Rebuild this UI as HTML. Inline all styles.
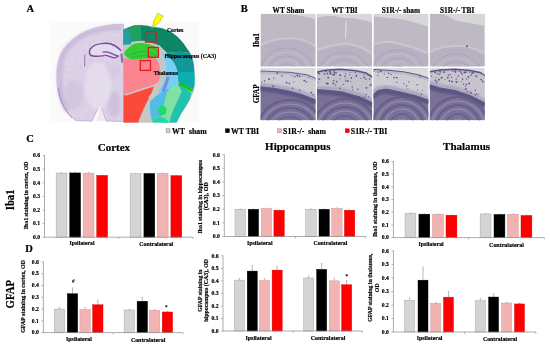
<!DOCTYPE html>
<html><head><meta charset="utf-8"><title>Figure</title><style>
html,body{margin:0;padding:0;background:#fff;}
body{width:550px;height:347px;overflow:hidden;}
svg{display:block;}
text{font-family:'Liberation Serif', serif;font-weight:bold;fill:#000;}
.pl{font-size:10.5px;}
.bh{font-size:7.2px;}
.lg{font-size:7.8px;}
.tt{font-size:11px;}
.rl{font-size:11.5px;}
.tk{font-size:5.7px;}
.cat{font-size:6.2px;}
.yl{font-size:5.6px;}
.mk{font-size:6px;}
.hs{font-size:5.2px;font-style:italic;}
.tk,.cat,.yl,.lg,.bh,.al{stroke:#000;stroke-width:0.18px;}
.rl,.tt,.pl{stroke:#000;stroke-width:0.2px;}
.al{font-size:6.2px;}
</style></head>
<body><svg width="550" height="347" viewBox="0 0 550 347">
<rect width="550" height="347" fill="#fff"/>
<defs><clipPath id="cA"><rect x="50.5" y="21.8" width="160" height="101"/></clipPath><filter id="bl1" x="-20%" y="-20%" width="140%" height="140%"><feGaussianBlur stdDeviation="0.6"/></filter><filter id="bl2" x="-20%" y="-20%" width="140%" height="140%"><feGaussianBlur stdDeviation="1.5"/></filter></defs>
<rect x="50.5" y="21.8" width="148.5" height="100" fill="#fafafa"/>
<g clip-path="url(#cA)">
<filter id="nz" x="0" y="0" width="100%" height="100%"><feTurbulence type="fractalNoise" baseFrequency="0.35" numOctaves="2" seed="4"/><feColorMatrix values="0 0 0 0 0.62  0 0 0 0 0.48  0 0 0 0 0.74  0 0 0 -1.6 1.05"/><feComposite in2="SourceGraphic" operator="in"/></filter>
<path d="M123.5,24.3 C121.75,24.38 116.92,24.37 113,24.8 C109.08,25.23 103.83,26.03 100,26.9 C96.17,27.77 93.33,28.68 90,30 C86.67,31.32 83.00,33.07 80,34.8 C77.00,36.53 74.50,38.15 72,40.4 C69.50,42.65 67.00,45.53 65,48.3 C63.00,51.07 61.25,53.88 60,57 C58.75,60.12 58.00,63.50 57.5,67 C57.00,70.50 56.95,74.17 57,78 C57.05,81.83 57.23,86.33 57.8,90 C58.37,93.67 59.07,96.67 60.4,100 C61.73,103.33 63.95,107.17 65.8,110 C67.65,112.83 69.80,115.23 71.5,117 C73.20,118.77 75.25,120.00 76,120.6 L92,121 L100,104 L106,121 L123.5,121.5 Z" fill="#ded4e6" stroke="#bca9d1" stroke-width="0.8"/>
<path d="M123.5,24.3 C121.75,24.38 116.92,24.37 113,24.8 C109.08,25.23 103.83,26.03 100,26.9 C96.17,27.77 93.33,28.68 90,30 C86.67,31.32 83.00,33.07 80,34.8 C77.00,36.53 74.50,38.15 72,40.4 C69.50,42.65 67.00,45.53 65,48.3 C63.00,51.07 61.25,53.88 60,57 C58.75,60.12 58.00,63.50 57.5,67 C57.00,70.50 56.95,74.17 57,78 C57.05,81.83 57.23,86.33 57.8,90 C58.37,93.67 59.07,96.67 60.4,100 C61.73,103.33 63.95,107.17 65.8,110 C67.65,112.83 69.80,115.23 71.5,117 C73.20,118.77 75.25,120.00 76,120.6 L92,121 L100,104 L106,121 L123.5,121.5 Z" fill="#000" filter="url(#nz)" opacity="0.45"/>
<path d="M122,27.5 C110,27.5 98,29.5 88,33 C78,37.5 70,44 65,51 C61,58 60,66 59.8,75 C59.8,84 60.5,92 62.5,99 C64,104 66,108 68,111" fill="none" stroke="#cbb9da" stroke-width="5" filter="url(#bl2)"/>
<path d="M58.5,88 C59.5,98 63,107 68.5,114 C70,116 71,117 72,117.5" fill="none" stroke="#9c80c0" stroke-width="0.8"/>
<ellipse cx="74" cy="95" rx="9" ry="15" fill="#cfc0dc" fill-opacity="0.7" filter="url(#bl2)"/>
<ellipse cx="114" cy="104" rx="7" ry="13" fill="#cbbbda" fill-opacity="0.7" filter="url(#bl2)"/>
<ellipse cx="112" cy="72" rx="8" ry="8" fill="#d2c5df" fill-opacity="0.6" filter="url(#bl2)"/>
<ellipse cx="98" cy="86" rx="13" ry="24" fill="#e7e0ee" fill-opacity="0.75" filter="url(#bl2)"/>
<path d="M90,55 C90,47 97,43.2 104,43.2 C111,43.2 117,46 121,51 L119,57 L104,56.5 Z" fill="#e4dcec" filter="url(#bl1)"/>
<path d="M104.5,55.6 C99,56.2 94,56.5 91.5,55.8 C89,54.5 88.8,51 90.5,48.8 C93,45.5 97.5,44 101.6,43.6 C105,43.2 108.5,43.2 111,44 C115,45.2 118.5,48 121.2,50.7" fill="none" stroke="#7846a6" stroke-width="1.45"/>
<path d="M102.6,52.2 C105,51.8 108,52 110,52.8 C112.5,54 115,55.4 118.3,56.1 C116.5,57.6 115,58.2 113,57.6 C110,56.6 107,55.6 104.5,55.2" fill="none" stroke="#7846a6" stroke-width="1.25"/>
<path d="M84.9,54.6 C84.8,58 84.6,62 84.5,66.4" fill="none" stroke="#9572bb" stroke-width="1"/>
<path d="M121.4,53.5 L122.3,62.5" fill="none" stroke="#8a62b4" stroke-width="2"/>
<path d="M97,121 C98.5,114 99.5,109 100.3,104 C101,109 102.5,115 104.5,121 Z" fill="#eeeaf1"/>
<path d="M123.5,29.5 L127,28 L134,25.6 L141,25.2 L147,25.8 L152.4,27.0 L157,27.6 L162.1,28.3 L167,30.2 L171.8,32.5 L176.5,36 L180.3,39.8 L183.5,43.5 L186.3,47.7 L189,51.5 L191.2,55.5 L192.8,60 L193.8,65 L194.4,72 L194.7,80 L194.5,86 L193.4,91 L192.2,94.3 L190,99 L187.6,103.3 L184.5,108.5 L181.1,113.7 L179,117.5 L176.6,122.8 L123.5,122.8 Z" fill="#c6c6c6" stroke="#bdbdbd" stroke-width="0.4"/>
<path d="M123.5,29.5 L127,28 L134,25.6 L141,25.2 L147,25.8 L152.4,27.0 L157,27.6 L162.1,28.3 L167,30.2 L171.8,32.5 L176.5,36 L180.3,39.8 L183.5,43.5 L186.3,47.7 L189,51.5 L191.2,55.5 L190,53 L180,51.8 L167,52.8 L163.3,49.2 L159.7,45.6 L150,42.2 L141.6,40.6 L131.3,41.5 L123.5,44.5 Z" fill="#0c8665"/>
<path d="M166.5,52.8 L180,51.8 L190,53 L191.2,55.5 L192.8,60 L193.8,65 L194.4,72 L177.5,72.2 L176,67 L173.7,62.5 L170,58 L166,55 Z" fill="#12979b"/>
<path d="M177.5,72 L194.4,72 L194.7,80 L194.4,86 L193.4,89 L180.5,83.5 L178.2,82 Z" fill="#0eaeae"/>
<path d="M128,27.7 L134,25.6 L141,25.2 L141.6,40.6 L131.3,41.5 L130.7,35.7 Z" fill="#1ea060"/>
<path d="M123.5,29.5 L128,27.7 L130.7,35.7 L131.3,41.5 L131,44.2 L123.5,45 Z" fill="#20a2a2"/>
<path d="M162.5,53.5 C163.00,52.33 164.75,54.25 166,55 C167.25,55.75 168.72,56.75 170,58 C171.28,59.25 172.70,61.00 173.7,62.5 C174.70,64.00 175.37,65.38 176,67 C176.63,68.62 177.13,69.70 177.5,72.2 C177.87,74.70 178.45,79.70 178.2,82 C177.95,84.30 177.20,84.92 176,86 C174.80,87.08 172.50,87.58 171,88.5 C169.50,89.42 168.50,90.25 167,91.5 C165.50,92.75 163.50,96.25 162,96 C160.50,95.75 158.17,92.33 158,90 C157.83,87.67 160.17,84.67 161,82 C161.83,79.33 162.67,77.33 163,74 C163.33,70.67 163.08,65.42 163,62 C162.92,58.58 162.00,54.67 162.5,53.5 Z" fill="#74d1f4"/>
<path d="M150,101 L156,96 L162,92 L167,89 L170,90 L167,98 L164,106 L163,112 L161,117 L155,118.5 L151,117.6 L150,110 Z" fill="#52bce6"/>
<path d="M167,92 L170,89 L173.3,86.5 L178,85 L181.8,91 L178,100 L174,108 L170.8,116.3 L169.5,122.8 L164,122.8 L163,118 L163,112 L164,104 Z" fill="#7fe1a2"/>
<ellipse cx="162.3" cy="110.5" rx="4.3" ry="5" fill="#1fdc6a"/>
<path d="M178,85 L180,84 L191.5,93 L190,99 L187.6,103.3 L184.5,108.5 L181.1,113.7 L179,117.5 L176.6,122.8 L169.5,122.8 L170.8,116.3 L174,108 L178,100 L181.8,91 Z" fill="#22c3ad"/>
<path d="M151,117.6 L155,118.5 L161,117 L165,118 L169.5,122.8 L153,122.8 Z" fill="#1fd8a2"/>
<path d="M179,83.3 L192.8,90.8" stroke="#13c713" stroke-width="2.8"/>
<path d="M123.5,58 L130.7,59.3 L141.6,58.7 L151.3,57.5 L156.5,58.5 L159.5,65 L160.6,74.5 L159.1,81 L153.9,85.2 L125.4,95 L123.5,95.5 Z" fill="#fa8590"/>
<path d="M123.5,95.5 L125.4,95 L153.9,86.2 L152,92 L148,100 L144,108 L141,115 L138,122.8 L123.5,122.8 Z" fill="#fc4a3a"/>
<path d="M161.5,56 C164,64 164.5,72 162,80 C159,87 155,93 150,99" fill="none" stroke="#c6c6c6" stroke-width="4.5"/>
<path d="M125.4,95 L153.9,85.6" stroke="#c8c8c8" stroke-width="1.6"/>
<path d="M168.2,77 C167,82 165,87 163,91.3" fill="none" stroke="#8189d8" stroke-width="3"/>
<path d="M124.7,52 C124.90,51.20 124.48,51.60 125.9,50.3 C127.32,49.00 130.78,45.42 133.2,44.2 C135.62,42.98 137.78,43.00 140.4,43 C143.02,43.00 146.47,43.60 148.9,44.2 C151.33,44.80 153.38,45.38 155,46.6 C156.62,47.82 158.00,49.88 158.6,51.5 C159.20,53.12 159.82,55.30 158.6,56.3 C157.38,57.30 154.13,57.10 151.3,57.5 C148.47,57.90 145.03,58.40 141.6,58.7 C138.17,59.00 133.52,59.90 130.7,59.3 C127.88,58.70 125.70,56.32 124.7,55.1 C123.70,53.88 124.50,52.80 124.7,52 Z" fill="#34cd34"/>
<path d="M130,55 C136,52 143,51 150,52.5 C153,53.5 155,55 156,56" fill="none" stroke="#2fa82c" stroke-width="0.8"/>
<path d="M131,57.5 C138,55.5 146,55 153,56.5" fill="none" stroke="#2fa82c" stroke-width="0.6"/>
<rect x="145.6" y="31.7" width="10.4" height="10.4" fill="none" stroke="#e8161c" stroke-width="1.3"/>
<rect x="148.3" y="47.5" width="10.0" height="9.8" fill="none" stroke="#e8161c" stroke-width="1.3"/>
<rect x="140.3" y="60.6" width="10.2" height="9.8" fill="none" stroke="#e8161c" stroke-width="1.3"/>
</g>
<path d="M157.6,13.2 L163.6,16.2 L160.0,19.1 L161.1,20.3 L157.6,23.9 L151.6,28.2 L154.0,22.6 L153.2,22.3 L155.4,17.9 Z" fill="#ffff00" stroke="#9a9a20" stroke-width="0.5"/>
<text x="167" y="31.9" class="al" textLength="16.6" lengthAdjust="spacingAndGlyphs">Cortex</text>
<text x="164.4" y="57.6" class="al" textLength="51.7" lengthAdjust="spacingAndGlyphs">Hippocampus (CA3)</text>
<text x="153.7" y="75" class="al" textLength="24.5" lengthAdjust="spacingAndGlyphs">Thalamus</text>
<defs>
<clipPath id="ci0"><rect x="260.5" y="13.7" width="55.10" height="52.90"/></clipPath>
<clipPath id="cg0"><rect x="260.5" y="68.0" width="55.10" height="52.30"/></clipPath>
<clipPath id="ci1"><rect x="317.0" y="13.7" width="55.10" height="52.90"/></clipPath>
<clipPath id="cg1"><rect x="317.0" y="68.0" width="55.10" height="52.30"/></clipPath>
<clipPath id="ci2"><rect x="373.5" y="13.7" width="54.90" height="52.90"/></clipPath>
<clipPath id="cg2"><rect x="373.5" y="68.0" width="54.90" height="52.30"/></clipPath>
<clipPath id="ci3"><rect x="429.8" y="13.7" width="55.00" height="52.90"/></clipPath>
<clipPath id="cg3"><rect x="429.8" y="68.0" width="55.00" height="52.30"/></clipPath>
<filter id="bb" x="-10%" y="-10%" width="120%" height="120%"><feGaussianBlur stdDeviation="0.9"/></filter>
<filter id="bs" x="-10%" y="-10%" width="120%" height="120%"><feGaussianBlur stdDeviation="0.4"/></filter>
</defs>
<g clip-path="url(#ci0)">
<rect x="260.5" y="13.7" width="55.10" height="52.90" fill="#beb9c3"/>
<path d="M261,45 C270,40 282,37.5 295,38.5 C305,39.5 311,42.5 315.6,47 L315.6,66.6 L260.5,66.6 Z" fill="#b9b1c1" filter="url(#bb)"/>
<path d="M261,45 C270,40 282,37.5 295,38.5 C305,39.5 311,42.5 315.6,47" fill="none" stroke="#cac6d0" stroke-width="2.2" filter="url(#bs)"/>
<ellipse cx="287" cy="73" rx="27" ry="25" fill="none" stroke="#aaa2bc" stroke-width="1.0" filter="url(#bs)"/>
<ellipse cx="287" cy="73" rx="23" ry="21" fill="none" stroke="#c2beca" stroke-width="1.1" filter="url(#bs)"/>
<ellipse cx="287" cy="73" rx="19" ry="17" fill="none" stroke="#a9a1bb" stroke-width="1.0" filter="url(#bs)"/>
<ellipse cx="287" cy="73" rx="15" ry="13" fill="none" stroke="#c1bdc9" stroke-width="1.1" filter="url(#bs)"/>
<ellipse cx="287" cy="73" rx="11" ry="9" fill="none" stroke="#aca4bd" stroke-width="0.9" filter="url(#bs)"/>
<path d="M282,13.7 C295,14.5 306,16 315.6,19.5 L315.6,13.7 Z" fill="#d7d7da"/>
</g>
<g clip-path="url(#ci1)">
<rect x="317.0" y="13.7" width="55.10" height="52.90" fill="#beb9c3"/>
<path d="M317,50 C328,46 338,43.5 347.7,43.9 C358,45 366,49 372.1,54 L372.1,66.6 L317.0,66.6 Z" fill="#b9b1c1" filter="url(#bb)"/>
<path d="M317,50 C328,46 338,43.5 347.7,43.9 C358,45 366,49 372.1,54" fill="none" stroke="#cac6d0" stroke-width="2.2" filter="url(#bs)"/>
<ellipse cx="344" cy="77" rx="27" ry="25" fill="none" stroke="#aaa2bc" stroke-width="1.0" filter="url(#bs)"/>
<ellipse cx="344" cy="77" rx="23" ry="21" fill="none" stroke="#c2beca" stroke-width="1.1" filter="url(#bs)"/>
<ellipse cx="344" cy="77" rx="19" ry="17" fill="none" stroke="#a9a1bb" stroke-width="1.0" filter="url(#bs)"/>
<ellipse cx="344" cy="77" rx="15" ry="13" fill="none" stroke="#c1bdc9" stroke-width="1.1" filter="url(#bs)"/>
<ellipse cx="344" cy="77" rx="11" ry="9" fill="none" stroke="#aca4bd" stroke-width="0.9" filter="url(#bs)"/>
<path d="M317,17.5 C325,15.5 335,15 343,18 C352,17.5 362,19 372.1,22.5 L372.1,13.7 L317,13.7 Z" fill="#d7d7da"/>
<path d="M346.3,21.5 C346,27 345.6,33 345.4,38.5" fill="none" stroke="#dcdae1" stroke-width="1.4" filter="url(#bs)"/>
</g>
<g clip-path="url(#ci2)">
<rect x="373.5" y="13.7" width="54.90" height="52.90" fill="#beb9c3"/>
<path d="M373.5,44 C380,42.5 384,41.8 388,41.6 C395,42 400,43.5 404,44.7 C414,47.5 421,50.5 428.4,53.5 L428.4,66.6 L373.5,66.6 Z" fill="#b9b1c1" filter="url(#bb)"/>
<path d="M373.5,44 C380,42.5 384,41.8 388,41.6 C395,42 400,43.5 404,44.7 C414,47.5 421,50.5 428.4,53.5" fill="none" stroke="#cac6d0" stroke-width="2.2" filter="url(#bs)"/>
<ellipse cx="398" cy="75" rx="27" ry="25" fill="none" stroke="#aaa2bc" stroke-width="1.0" filter="url(#bs)"/>
<ellipse cx="398" cy="75" rx="23" ry="21" fill="none" stroke="#c2beca" stroke-width="1.1" filter="url(#bs)"/>
<ellipse cx="398" cy="75" rx="19" ry="17" fill="none" stroke="#a9a1bb" stroke-width="1.0" filter="url(#bs)"/>
<ellipse cx="398" cy="75" rx="15" ry="13" fill="none" stroke="#c1bdc9" stroke-width="1.1" filter="url(#bs)"/>
<ellipse cx="398" cy="75" rx="11" ry="9" fill="none" stroke="#aca4bd" stroke-width="0.9" filter="url(#bs)"/>
<path d="M373.5,16.5 C380,17.3 388,18 396,18.6 C403,19.6 408,20.6 412,21.7 C418,23.5 423,25 428.4,26.5 L428.4,13.7 L373.5,13.7 Z" fill="#d7d7da"/>
</g>
<g clip-path="url(#ci3)">
<rect x="429.8" y="13.7" width="55.00" height="52.90" fill="#beb9c3"/>
<path d="M429.8,52 C440,47 452,45 463,46 C472,47.5 479,50 484.8,54 L484.8,66.6 L429.8,66.6 Z" fill="#b9b1c1" filter="url(#bb)"/>
<path d="M429.8,52 C440,47 452,45 463,46 C472,47.5 479,50 484.8,54" fill="none" stroke="#cac6d0" stroke-width="2.2" filter="url(#bs)"/>
<ellipse cx="456" cy="79" rx="27" ry="25" fill="none" stroke="#aaa2bc" stroke-width="1.0" filter="url(#bs)"/>
<ellipse cx="456" cy="79" rx="23" ry="21" fill="none" stroke="#c2beca" stroke-width="1.1" filter="url(#bs)"/>
<ellipse cx="456" cy="79" rx="19" ry="17" fill="none" stroke="#a9a1bb" stroke-width="1.0" filter="url(#bs)"/>
<ellipse cx="456" cy="79" rx="15" ry="13" fill="none" stroke="#c1bdc9" stroke-width="1.1" filter="url(#bs)"/>
<ellipse cx="456" cy="79" rx="11" ry="9" fill="none" stroke="#aca4bd" stroke-width="0.9" filter="url(#bs)"/>
<path d="M442,13.7 C448,16 452,19 457,21 C466,22.5 476,24 484.8,26 L484.8,13.7 Z" fill="#d7d7da"/>
<circle cx="466.9" cy="46.3" r="1.1" fill="#6a6288" filter="url(#bs)"/>
</g>
<clipPath id="ch0"><path d="M259,86 L275,88 L288,90.5 L300,93.5 L317,100 L318.6,123.3 L257.5,123.3 Z"/></clipPath>
<g clip-path="url(#cg0)">
<rect x="260.5" y="68.0" width="55.10" height="52.30" fill="#dadadd"/>
<path d="M259,70.9 L274.4,71.6 L290.9,72.4 L307.3,74.8 L317,78.8 L318.6,120.3 L257.5,120.3 Z" fill="#cdcad3"/>
<path d="M259,70.9 L274.4,71.6 L290.9,72.4 L307.3,74.8 L317,78.8" fill="none" stroke="#bdb8cb" stroke-width="2.4" transform="translate(0,1.6)" filter="url(#bs)"/>
<path d="M259,70.9 L274.4,71.6 L290.9,72.4 L307.3,74.8 L317,78.8" fill="none" stroke="#5b5384" stroke-width="0.9" filter="url(#bs)"/>
<path d="M259,86 L275,88 L288,90.5 L300,93.5 L317,100" fill="none" stroke="#aaa4bf" stroke-width="4" transform="translate(0,-1.5)" filter="url(#bb)"/>
<g clip-path="url(#ch0)">
<rect x="260.5" y="68.0" width="55.10" height="52.30" fill="#7a7197"/>
<path d="M259,86 L275,88 L288,90.5 L300,93.5 L317,100" fill="none" stroke="#5d5484" stroke-width="6" transform="translate(0,2)" filter="url(#bb)"/>
<ellipse cx="290" cy="128" rx="32" ry="28" fill="none" stroke="#665d8a" stroke-width="2.0" filter="url(#bs)"/>
<ellipse cx="290" cy="128" rx="28" ry="24" fill="none" stroke="#978fb0" stroke-width="1.1" filter="url(#bs)"/>
<ellipse cx="290" cy="128" rx="24" ry="20" fill="none" stroke="#675e8b" stroke-width="2.0" filter="url(#bs)"/>
<ellipse cx="290" cy="128" rx="20" ry="16" fill="none" stroke="#9c95b4" stroke-width="1.0" filter="url(#bs)"/>
<ellipse cx="290" cy="128" rx="15" ry="11" fill="none" stroke="#6c638e" stroke-width="2.0" filter="url(#bs)"/>
<ellipse cx="290" cy="128" rx="10" ry="6" fill="none" stroke="#948cad" stroke-width="1.0" filter="url(#bs)"/>
</g>
<g filter="url(#bs)">
<circle cx="273.9" cy="78.1" r="0.67" fill="#5a527f"/>
<circle cx="293.7" cy="82.0" r="0.53" fill="#5a527f"/>
<circle cx="261.7" cy="82.1" r="0.62" fill="#5a527f"/>
<circle cx="273.7" cy="86.7" r="0.71" fill="#5a527f"/>
<circle cx="306.3" cy="81.7" r="0.79" fill="#5a527f"/>
<circle cx="269.1" cy="79.2" r="0.89" fill="#5a527f"/>
<circle cx="289.3" cy="83.6" r="0.80" fill="#5a527f"/>
<circle cx="264.5" cy="80.9" r="0.77" fill="#5a527f"/>
<circle cx="277.3" cy="73.0" r="0.89" fill="#5a527f"/>
<circle cx="286.6" cy="82.7" r="0.90" fill="#5a527f"/>
<circle cx="299.6" cy="90.2" r="0.68" fill="#5a527f"/>
<circle cx="304.3" cy="80.6" r="0.92" fill="#5a527f"/>
<circle cx="308.5" cy="77.0" r="0.56" fill="#5a527f"/>
<circle cx="272.7" cy="86.0" r="0.70" fill="#5a527f"/>
<circle cx="294.9" cy="76.7" r="0.73" fill="#5a527f"/>
<circle cx="281.9" cy="76.0" r="0.76" fill="#5a527f"/>
<circle cx="292.6" cy="88.2" r="0.81" fill="#5a527f"/>
<circle cx="311.3" cy="92.6" r="0.95" fill="#5a527f"/>
<circle cx="297.3" cy="75.5" r="0.89" fill="#5a527f"/>
<circle cx="313.2" cy="94.7" r="0.76" fill="#5a527f"/>
<circle cx="299.6" cy="76.3" r="0.87" fill="#5a527f"/>
<circle cx="292.0" cy="76.0" r="0.53" fill="#5a527f"/>
</g>
</g>
<clipPath id="ch1"><path d="M315,89 L330,90 L342,91.5 L360,96.5 L374,103 L375.1,123.3 L314.0,123.3 Z"/></clipPath>
<g clip-path="url(#cg1)">
<rect x="317.0" y="68.0" width="55.10" height="52.30" fill="#dadadd"/>
<path d="M315,72.5 L325,70.3 L340,69.2 L356,70.8 L366,73 L374,78 L375.1,120.3 L314.0,120.3 Z" fill="#c5c1cc"/>
<path d="M315,72.5 L325,70.3 L340,69.2 L356,70.8 L366,73 L374,78" fill="none" stroke="#bdb8cb" stroke-width="2.4" transform="translate(0,1.6)" filter="url(#bs)"/>
<path d="M315,72.5 L325,70.3 L340,69.2 L356,70.8 L366,73 L374,78" fill="none" stroke="#5b5384" stroke-width="1.6" filter="url(#bs)"/>
<path d="M315,89 L330,90 L342,91.5 L360,96.5 L374,103" fill="none" stroke="#aaa4bf" stroke-width="4" transform="translate(0,-1.5)" filter="url(#bb)"/>
<g clip-path="url(#ch1)">
<rect x="317.0" y="68.0" width="55.10" height="52.30" fill="#7a7197"/>
<path d="M315,89 L330,90 L342,91.5 L360,96.5 L374,103" fill="none" stroke="#5d5484" stroke-width="6" transform="translate(0,2)" filter="url(#bb)"/>
<ellipse cx="345" cy="130" rx="32" ry="31" fill="none" stroke="#665d8a" stroke-width="2.0" filter="url(#bs)"/>
<ellipse cx="345" cy="130" rx="28" ry="27" fill="none" stroke="#978fb0" stroke-width="1.1" filter="url(#bs)"/>
<ellipse cx="345" cy="130" rx="24" ry="23" fill="none" stroke="#675e8b" stroke-width="2.0" filter="url(#bs)"/>
<ellipse cx="345" cy="130" rx="20" ry="19" fill="none" stroke="#9c95b4" stroke-width="1.0" filter="url(#bs)"/>
<ellipse cx="345" cy="130" rx="15" ry="14" fill="none" stroke="#6c638e" stroke-width="2.0" filter="url(#bs)"/>
<ellipse cx="345" cy="130" rx="10" ry="9" fill="none" stroke="#948cad" stroke-width="1.0" filter="url(#bs)"/>
</g>
<g filter="url(#bs)">
<circle cx="363.7" cy="96.8" r="0.54" fill="#5a527f"/>
<circle cx="360.8" cy="78.5" r="0.57" fill="#5a527f"/>
<circle cx="333.4" cy="83.1" r="0.89" fill="#5a527f"/>
<circle cx="319.9" cy="79.8" r="0.52" fill="#5a527f"/>
<circle cx="356.4" cy="75.9" r="0.90" fill="#5a527f"/>
<circle cx="370.6" cy="84.9" r="0.95" fill="#5a527f"/>
<circle cx="334.3" cy="71.1" r="0.77" fill="#5a527f"/>
<circle cx="319.2" cy="73.9" r="0.68" fill="#5a527f"/>
<circle cx="350.5" cy="72.6" r="0.52" fill="#5a527f"/>
<circle cx="364.4" cy="77.6" r="0.93" fill="#5a527f"/>
<circle cx="366.0" cy="79.3" r="0.71" fill="#5a527f"/>
<circle cx="345.6" cy="81.1" r="0.77" fill="#5a527f"/>
<circle cx="347.8" cy="80.9" r="0.92" fill="#5a527f"/>
<circle cx="344.9" cy="76.2" r="0.82" fill="#5a527f"/>
<circle cx="330.4" cy="73.7" r="0.94" fill="#5a527f"/>
<circle cx="345.7" cy="78.8" r="0.51" fill="#5a527f"/>
<circle cx="340.0" cy="78.7" r="0.51" fill="#5a527f"/>
<circle cx="350.8" cy="81.8" r="0.53" fill="#5a527f"/>
<circle cx="351.4" cy="77.9" r="0.81" fill="#5a527f"/>
<circle cx="336.6" cy="81.7" r="0.83" fill="#5a527f"/>
<circle cx="318.7" cy="73.1" r="0.80" fill="#5a527f"/>
<circle cx="369.6" cy="79.0" r="0.71" fill="#5a527f"/>
<circle cx="349.6" cy="74.8" r="0.66" fill="#5a527f"/>
<circle cx="334.4" cy="74.6" r="0.77" fill="#5a527f"/>
<circle cx="333.8" cy="74.8" r="0.85" fill="#5a527f"/>
<circle cx="319.0" cy="79.1" r="0.83" fill="#5a527f"/>
<circle cx="334.3" cy="72.5" r="0.86" fill="#5a527f"/>
<circle cx="330.4" cy="72.3" r="0.70" fill="#5a527f"/>
<circle cx="355.3" cy="72.5" r="0.64" fill="#5a527f"/>
<circle cx="335.6" cy="84.9" r="0.70" fill="#5a527f"/>
<circle cx="363.8" cy="75.1" r="0.65" fill="#5a527f"/>
<circle cx="352.7" cy="89.6" r="0.70" fill="#5a527f"/>
<circle cx="329.7" cy="71.8" r="0.74" fill="#5a527f"/>
<circle cx="327.8" cy="83.7" r="0.88" fill="#5a527f"/>
<circle cx="327.4" cy="73.6" r="0.86" fill="#5a527f"/>
<circle cx="352.2" cy="87.0" r="0.66" fill="#5a527f"/>
<circle cx="324.5" cy="74.0" r="0.86" fill="#5a527f"/>
<circle cx="332.2" cy="74.3" r="0.69" fill="#5a527f"/>
<circle cx="340.2" cy="75.2" r="0.91" fill="#5a527f"/>
<circle cx="325.9" cy="71.4" r="0.92" fill="#5a527f"/>
<circle cx="365.1" cy="97.4" r="0.70" fill="#5a527f"/>
<circle cx="368.9" cy="96.9" r="0.60" fill="#5a527f"/>
<circle cx="357.8" cy="89.3" r="0.80" fill="#5a527f"/>
<circle cx="345.6" cy="73.8" r="0.65" fill="#5a527f"/>
<circle cx="329.8" cy="71.4" r="0.76" fill="#5a527f"/>
<circle cx="333.0" cy="84.1" r="0.52" fill="#5a527f"/>
<circle cx="366.4" cy="87.8" r="0.92" fill="#5a527f"/>
<circle cx="366.0" cy="94.5" r="0.76" fill="#5a527f"/>
<circle cx="318.2" cy="82.5" r="0.58" fill="#5a527f"/>
<circle cx="333.7" cy="80.5" r="0.74" fill="#5a527f"/>
<circle cx="339.9" cy="88.3" r="0.78" fill="#5a527f"/>
<circle cx="336.0" cy="72.8" r="0.89" fill="#5a527f"/>
<circle cx="343.3" cy="84.3" r="0.66" fill="#5a527f"/>
<circle cx="328.2" cy="77.7" r="0.87" fill="#5a527f"/>
<circle cx="326.8" cy="83.4" r="0.91" fill="#5a527f"/>
</g>
</g>
<clipPath id="ch2"><path d="M372,95 L378,90 L386,88.5 L400,91.5 L415,95 L430,100 L431.4,123.3 L370.5,123.3 Z"/></clipPath>
<g clip-path="url(#cg2)">
<rect x="373.5" y="68.0" width="54.90" height="52.30" fill="#dadadd"/>
<path d="M372,69.4 L390,70.4 L405,72 L420,75.2 L430,78.8 L431.4,120.3 L370.5,120.3 Z" fill="#cecbd3"/>
<path d="M372,69.4 L390,70.4 L405,72 L420,75.2 L430,78.8" fill="none" stroke="#bdb8cb" stroke-width="2.4" transform="translate(0,1.6)" filter="url(#bs)"/>
<path d="M372,69.4 L390,70.4 L405,72 L420,75.2 L430,78.8" fill="none" stroke="#5b5384" stroke-width="1.0" filter="url(#bs)"/>
<path d="M372,95 L378,90 L386,88.5 L400,91.5 L415,95 L430,100" fill="none" stroke="#aaa4bf" stroke-width="4" transform="translate(0,-1.5)" filter="url(#bb)"/>
<g clip-path="url(#ch2)">
<rect x="373.5" y="68.0" width="54.90" height="52.30" fill="#7a7197"/>
<path d="M372,95 L378,90 L386,88.5 L400,91.5 L415,95 L430,100" fill="none" stroke="#5d5484" stroke-width="6" transform="translate(0,2)" filter="url(#bb)"/>
<ellipse cx="402" cy="128" rx="30" ry="31" fill="none" stroke="#665d8a" stroke-width="2.0" filter="url(#bs)"/>
<ellipse cx="402" cy="128" rx="26" ry="27" fill="none" stroke="#978fb0" stroke-width="1.1" filter="url(#bs)"/>
<ellipse cx="402" cy="128" rx="22" ry="23" fill="none" stroke="#675e8b" stroke-width="2.0" filter="url(#bs)"/>
<ellipse cx="402" cy="128" rx="18" ry="19" fill="none" stroke="#9c95b4" stroke-width="1.0" filter="url(#bs)"/>
<ellipse cx="402" cy="128" rx="13" ry="14" fill="none" stroke="#6c638e" stroke-width="2.0" filter="url(#bs)"/>
<ellipse cx="402" cy="128" rx="8" ry="9" fill="none" stroke="#948cad" stroke-width="1.0" filter="url(#bs)"/>
</g>
<g filter="url(#bs)">
<circle cx="417.4" cy="89.8" r="0.50" fill="#5a527f"/>
<circle cx="407.9" cy="88.4" r="0.52" fill="#5a527f"/>
<circle cx="388.6" cy="73.5" r="0.74" fill="#5a527f"/>
<circle cx="396.8" cy="77.6" r="0.85" fill="#5a527f"/>
<circle cx="374.1" cy="70.9" r="0.56" fill="#5a527f"/>
<circle cx="380.7" cy="71.3" r="0.94" fill="#5a527f"/>
<circle cx="420.1" cy="76.8" r="0.73" fill="#5a527f"/>
<circle cx="391.0" cy="74.4" r="0.66" fill="#5a527f"/>
<circle cx="408.9" cy="81.9" r="0.66" fill="#5a527f"/>
<circle cx="384.3" cy="74.1" r="0.56" fill="#5a527f"/>
<circle cx="403.9" cy="83.8" r="0.67" fill="#5a527f"/>
<circle cx="378.3" cy="72.1" r="0.67" fill="#5a527f"/>
<circle cx="406.6" cy="86.0" r="0.67" fill="#5a527f"/>
<circle cx="417.2" cy="84.7" r="0.69" fill="#5a527f"/>
<circle cx="394.1" cy="77.6" r="0.82" fill="#5a527f"/>
<circle cx="396.7" cy="82.1" r="0.71" fill="#5a527f"/>
<circle cx="387.2" cy="77.5" r="0.81" fill="#5a527f"/>
<circle cx="377.9" cy="75.6" r="0.69" fill="#5a527f"/>
<circle cx="421.4" cy="94.2" r="0.67" fill="#5a527f"/>
<circle cx="422.4" cy="90.5" r="0.62" fill="#5a527f"/>
</g>
</g>
<clipPath id="ch3"><path d="M428,84 L440,87.5 L455,90 L470,95 L486,103 L487.8,123.3 L426.8,123.3 Z"/></clipPath>
<g clip-path="url(#cg3)">
<rect x="429.8" y="68.0" width="55.00" height="52.30" fill="#dadadd"/>
<path d="M428,72 L440,70 L455,69.3 L470,70.5 L480,72.5 L486,76 L487.8,120.3 L426.8,120.3 Z" fill="#c8c4ce"/>
<path d="M428,72 L440,70 L455,69.3 L470,70.5 L480,72.5 L486,76" fill="none" stroke="#bdb8cb" stroke-width="2.4" transform="translate(0,1.6)" filter="url(#bs)"/>
<path d="M428,72 L440,70 L455,69.3 L470,70.5 L480,72.5 L486,76" fill="none" stroke="#5b5384" stroke-width="1.4" filter="url(#bs)"/>
<path d="M428,84 L440,87.5 L455,90 L470,95 L486,103" fill="none" stroke="#aaa4bf" stroke-width="4" transform="translate(0,-1.5)" filter="url(#bb)"/>
<g clip-path="url(#ch3)">
<rect x="429.8" y="68.0" width="55.00" height="52.30" fill="#7a7197"/>
<path d="M428,84 L440,87.5 L455,90 L470,95 L486,103" fill="none" stroke="#5d5484" stroke-width="6" transform="translate(0,2)" filter="url(#bb)"/>
<ellipse cx="458" cy="130" rx="31" ry="33" fill="none" stroke="#665d8a" stroke-width="2.0" filter="url(#bs)"/>
<ellipse cx="458" cy="130" rx="27" ry="29" fill="none" stroke="#978fb0" stroke-width="1.1" filter="url(#bs)"/>
<ellipse cx="458" cy="130" rx="23" ry="25" fill="none" stroke="#675e8b" stroke-width="2.0" filter="url(#bs)"/>
<ellipse cx="458" cy="130" rx="19" ry="21" fill="none" stroke="#9c95b4" stroke-width="1.0" filter="url(#bs)"/>
<ellipse cx="458" cy="130" rx="14" ry="16" fill="none" stroke="#6c638e" stroke-width="2.0" filter="url(#bs)"/>
<ellipse cx="458" cy="130" rx="9" ry="11" fill="none" stroke="#948cad" stroke-width="1.0" filter="url(#bs)"/>
</g>
<g filter="url(#bs)">
<circle cx="455.4" cy="71.2" r="0.87" fill="#5a527f"/>
<circle cx="466.1" cy="89.0" r="0.86" fill="#5a527f"/>
<circle cx="466.3" cy="84.4" r="0.75" fill="#5a527f"/>
<circle cx="435.9" cy="77.6" r="0.50" fill="#5a527f"/>
<circle cx="438.0" cy="81.1" r="0.52" fill="#5a527f"/>
<circle cx="435.3" cy="72.3" r="0.90" fill="#5a527f"/>
<circle cx="440.0" cy="71.2" r="0.88" fill="#5a527f"/>
<circle cx="436.8" cy="82.3" r="0.80" fill="#5a527f"/>
<circle cx="475.5" cy="94.9" r="0.76" fill="#5a527f"/>
<circle cx="473.4" cy="72.5" r="0.85" fill="#5a527f"/>
<circle cx="457.9" cy="82.0" r="0.55" fill="#5a527f"/>
<circle cx="470.7" cy="92.1" r="0.53" fill="#5a527f"/>
<circle cx="447.8" cy="77.6" r="0.87" fill="#5a527f"/>
<circle cx="443.4" cy="72.1" r="0.61" fill="#5a527f"/>
<circle cx="463.6" cy="84.3" r="0.68" fill="#5a527f"/>
<circle cx="450.1" cy="74.7" r="0.66" fill="#5a527f"/>
<circle cx="452.9" cy="70.9" r="0.73" fill="#5a527f"/>
<circle cx="482.8" cy="81.4" r="0.84" fill="#5a527f"/>
<circle cx="439.0" cy="79.6" r="0.84" fill="#5a527f"/>
<circle cx="466.7" cy="78.9" r="0.72" fill="#5a527f"/>
<circle cx="465.0" cy="89.0" r="0.57" fill="#5a527f"/>
<circle cx="435.5" cy="80.3" r="0.91" fill="#5a527f"/>
<circle cx="458.2" cy="76.0" r="0.82" fill="#5a527f"/>
<circle cx="440.3" cy="73.0" r="0.59" fill="#5a527f"/>
<circle cx="461.9" cy="74.2" r="0.60" fill="#5a527f"/>
<circle cx="467.6" cy="91.6" r="0.63" fill="#5a527f"/>
<circle cx="468.4" cy="76.9" r="0.88" fill="#5a527f"/>
<circle cx="461.9" cy="73.5" r="0.60" fill="#5a527f"/>
<circle cx="431.5" cy="76.1" r="0.67" fill="#5a527f"/>
<circle cx="439.6" cy="74.2" r="0.64" fill="#5a527f"/>
<circle cx="472.1" cy="73.1" r="0.95" fill="#5a527f"/>
<circle cx="456.2" cy="78.9" r="0.71" fill="#5a527f"/>
<circle cx="475.4" cy="90.2" r="0.75" fill="#5a527f"/>
<circle cx="456.3" cy="81.8" r="0.89" fill="#5a527f"/>
<circle cx="451.9" cy="81.5" r="0.93" fill="#5a527f"/>
<circle cx="455.5" cy="72.3" r="0.61" fill="#5a527f"/>
<circle cx="469.1" cy="83.4" r="0.93" fill="#5a527f"/>
<circle cx="476.4" cy="75.5" r="0.59" fill="#5a527f"/>
<circle cx="444.3" cy="72.1" r="0.82" fill="#5a527f"/>
<circle cx="476.7" cy="93.6" r="0.61" fill="#5a527f"/>
<circle cx="477.0" cy="76.9" r="0.69" fill="#5a527f"/>
<circle cx="469.7" cy="72.1" r="0.54" fill="#5a527f"/>
<circle cx="475.3" cy="76.1" r="0.66" fill="#5a527f"/>
<circle cx="461.6" cy="81.8" r="0.50" fill="#5a527f"/>
<circle cx="448.4" cy="75.3" r="0.72" fill="#5a527f"/>
<circle cx="441.6" cy="77.8" r="0.93" fill="#5a527f"/>
<circle cx="451.4" cy="77.4" r="0.55" fill="#5a527f"/>
<circle cx="445.1" cy="79.5" r="0.55" fill="#5a527f"/>
<circle cx="478.2" cy="94.6" r="0.54" fill="#5a527f"/>
<circle cx="481.1" cy="79.6" r="0.85" fill="#5a527f"/>
<circle cx="471.2" cy="75.2" r="0.80" fill="#5a527f"/>
<circle cx="465.6" cy="86.4" r="0.62" fill="#5a527f"/>
<circle cx="471.0" cy="93.1" r="0.80" fill="#5a527f"/>
<circle cx="459.3" cy="71.4" r="0.72" fill="#5a527f"/>
<circle cx="449.3" cy="80.9" r="0.81" fill="#5a527f"/>
<circle cx="460.9" cy="72.3" r="0.79" fill="#5a527f"/>
<circle cx="464.4" cy="72.6" r="0.90" fill="#5a527f"/>
<circle cx="465.7" cy="72.1" r="0.92" fill="#5a527f"/>
<circle cx="437.9" cy="74.0" r="0.82" fill="#5a527f"/>
<circle cx="462.6" cy="79.1" r="0.79" fill="#5a527f"/>
</g>
</g>
<text x="26.6" y="12.3" class="pl">A</text>
<text x="240.8" y="12.4" class="pl">B</text>
<text x="26.3" y="142" class="pl">C</text>
<text x="25.3" y="251.9" class="pl">D</text>
<text x="288.5" y="13.2" text-anchor="middle" class="bh" textLength="31.8" lengthAdjust="spacingAndGlyphs">WT Sham</text>
<text x="344.65" y="13.2" text-anchor="middle" class="bh" textLength="25.9" lengthAdjust="spacingAndGlyphs">WT TBI</text>
<text x="400.85" y="13.2" text-anchor="middle" class="bh" textLength="38.3" lengthAdjust="spacingAndGlyphs">S1R-/- sham</text>
<text x="457.1" y="13.2" text-anchor="middle" class="bh" textLength="34.4" lengthAdjust="spacingAndGlyphs">S1R-/- TBI</text>
<text transform="translate(259.4,40.1) rotate(-90)" text-anchor="middle" class="bh">Iba1</text>
<text transform="translate(259.4,93.85) rotate(-90)" text-anchor="middle" class="bh">GFAP</text>
<rect x="166.1" y="128.8" width="3.9" height="3.9" fill="#d4d4d4" stroke="#777" stroke-width="0.5"/>
<text x="172" y="133.5" class="lg">WT  sham</text>
<rect x="225.5" y="128.8" width="3.9" height="3.9" fill="#000000" stroke="#000" stroke-width="0.5"/>
<text x="231" y="133.5" class="lg">WT TBI</text>
<rect x="277.6" y="128.8" width="3.9" height="3.9" fill="#f2b3b3" stroke="#a77" stroke-width="0.5"/>
<text x="283.1" y="133.5" class="lg">S1R-/-  sham</text>
<rect x="345.3" y="128.8" width="3.9" height="3.9" fill="#ff0000" stroke="#c00" stroke-width="0.5"/>
<text x="350.8" y="133.5" class="lg">S1R-/- TBI</text>
<text x="113.9" y="151.4" text-anchor="middle" class="tt">Cortex</text>
<text x="297.8" y="150.3" text-anchor="middle" class="tt">Hippocampus</text>
<text x="466.6" y="150.3" text-anchor="middle" class="tt">Thalamus</text>
<text transform="translate(13.9,199.85) rotate(-90)" text-anchor="middle" class="rl" textLength="20.6" lengthAdjust="spacingAndGlyphs">Iba1</text>
<text transform="translate(13.9,294.25) rotate(-90)" text-anchor="middle" class="rl" textLength="28.4" lengthAdjust="spacingAndGlyphs">GFAP</text>
<line x1="61.55" y1="172.52" x2="61.55" y2="173.07" stroke="#777" stroke-width="0.5"/>
<line x1="60.75" y1="172.52" x2="62.35" y2="172.52" stroke="#888" stroke-width="0.4"/>
<rect x="56.10" y="173.07" width="10.90" height="64.13" fill="#d4d4d4" stroke="#9a9a9a" stroke-width="0.4"/>
<line x1="75.15" y1="172.38" x2="75.15" y2="172.93" stroke="#777" stroke-width="0.5"/>
<line x1="74.35" y1="172.38" x2="75.95" y2="172.38" stroke="#888" stroke-width="0.4"/>
<rect x="69.70" y="172.93" width="10.90" height="64.27" fill="#000000" stroke="#000" stroke-width="0.4"/>
<line x1="88.55" y1="172.52" x2="88.55" y2="173.07" stroke="#777" stroke-width="0.5"/>
<line x1="87.75" y1="172.52" x2="89.35" y2="172.52" stroke="#888" stroke-width="0.4"/>
<rect x="83.10" y="173.07" width="10.90" height="64.13" fill="#f2b3b3" stroke="#c89090" stroke-width="0.4"/>
<line x1="102.15" y1="174.97" x2="102.15" y2="175.38" stroke="#777" stroke-width="0.5"/>
<line x1="101.35" y1="174.97" x2="102.95" y2="174.97" stroke="#888" stroke-width="0.4"/>
<rect x="96.70" y="175.38" width="10.90" height="61.82" fill="#ff0000" stroke="#d00000" stroke-width="0.4"/>
<line x1="135.55" y1="173.20" x2="135.55" y2="173.61" stroke="#777" stroke-width="0.5"/>
<line x1="134.75" y1="173.20" x2="136.35" y2="173.20" stroke="#888" stroke-width="0.4"/>
<rect x="130.10" y="173.61" width="10.90" height="63.59" fill="#d4d4d4" stroke="#9a9a9a" stroke-width="0.4"/>
<line x1="149.35" y1="173.07" x2="149.35" y2="173.47" stroke="#777" stroke-width="0.5"/>
<line x1="148.55" y1="173.07" x2="150.15" y2="173.07" stroke="#888" stroke-width="0.4"/>
<rect x="143.90" y="173.47" width="10.90" height="63.73" fill="#000000" stroke="#000" stroke-width="0.4"/>
<line x1="162.65" y1="172.93" x2="162.65" y2="173.34" stroke="#777" stroke-width="0.5"/>
<line x1="161.85" y1="172.93" x2="163.45" y2="172.93" stroke="#888" stroke-width="0.4"/>
<rect x="157.20" y="173.34" width="10.90" height="63.86" fill="#f2b3b3" stroke="#c89090" stroke-width="0.4"/>
<line x1="176.35" y1="175.24" x2="176.35" y2="175.65" stroke="#777" stroke-width="0.5"/>
<line x1="175.55" y1="175.24" x2="177.15" y2="175.24" stroke="#888" stroke-width="0.4"/>
<rect x="170.90" y="175.65" width="10.90" height="61.55" fill="#ff0000" stroke="#d00000" stroke-width="0.4"/>
<line x1="44.5" y1="155.00" x2="44.5" y2="237.50" stroke="#8a8a8a" stroke-width="0.7"/>
<line x1="44.2" y1="237.2" x2="193" y2="237.2" stroke="#8a8a8a" stroke-width="0.7"/>
<line x1="42.5" y1="237.20" x2="44.5" y2="237.20" stroke="#8a8a8a" stroke-width="0.6"/>
<text x="40.00" y="239.00" text-anchor="end" class="tk">0.0</text>
<line x1="42.5" y1="223.58" x2="44.5" y2="223.58" stroke="#8a8a8a" stroke-width="0.6"/>
<text x="40.00" y="225.38" text-anchor="end" class="tk">0.1</text>
<line x1="42.5" y1="209.97" x2="44.5" y2="209.97" stroke="#8a8a8a" stroke-width="0.6"/>
<text x="40.00" y="211.77" text-anchor="end" class="tk">0.2</text>
<line x1="42.5" y1="196.35" x2="44.5" y2="196.35" stroke="#8a8a8a" stroke-width="0.6"/>
<text x="40.00" y="198.15" text-anchor="end" class="tk">0.3</text>
<line x1="42.5" y1="182.73" x2="44.5" y2="182.73" stroke="#8a8a8a" stroke-width="0.6"/>
<text x="40.00" y="184.53" text-anchor="end" class="tk">0.4</text>
<line x1="42.5" y1="169.12" x2="44.5" y2="169.12" stroke="#8a8a8a" stroke-width="0.6"/>
<text x="40.00" y="170.92" text-anchor="end" class="tk">0.5</text>
<line x1="42.5" y1="155.50" x2="44.5" y2="155.50" stroke="#8a8a8a" stroke-width="0.6"/>
<text x="40.00" y="157.30" text-anchor="end" class="tk">0.6</text>
<line x1="118.8" y1="237.2" x2="118.8" y2="239.0" stroke="#8a8a8a" stroke-width="0.6"/>
<line x1="193" y1="237.2" x2="193" y2="239.0" stroke="#8a8a8a" stroke-width="0.6"/>
<text x="82.00" y="245.30" text-anchor="middle" class="cat" textLength="25" lengthAdjust="spacingAndGlyphs">Ipsilateral</text>
<text x="156.25" y="246.10" text-anchor="middle" class="cat" textLength="33.9" lengthAdjust="spacingAndGlyphs">Contralateral</text>
<text transform="translate(28.40,195.4) rotate(-90)" text-anchor="middle" class="yl" textLength="67.9" lengthAdjust="spacingAndGlyphs">Iba1 staining in cortex, OD</text><line x1="240.20" y1="208.86" x2="240.20" y2="209.27" stroke="#777" stroke-width="0.5"/>
<line x1="239.40" y1="208.86" x2="241.00" y2="208.86" stroke="#888" stroke-width="0.4"/>
<rect x="235.00" y="209.27" width="10.40" height="27.23" fill="#d4d4d4" stroke="#9a9a9a" stroke-width="0.4"/>
<line x1="253.40" y1="208.86" x2="253.40" y2="209.27" stroke="#777" stroke-width="0.5"/>
<line x1="252.60" y1="208.86" x2="254.20" y2="208.86" stroke="#888" stroke-width="0.4"/>
<rect x="248.20" y="209.27" width="10.40" height="27.23" fill="#000000" stroke="#000" stroke-width="0.4"/>
<line x1="266.40" y1="208.04" x2="266.40" y2="208.45" stroke="#777" stroke-width="0.5"/>
<line x1="265.60" y1="208.04" x2="267.20" y2="208.04" stroke="#888" stroke-width="0.4"/>
<rect x="261.20" y="208.45" width="10.40" height="28.05" fill="#f2b3b3" stroke="#c89090" stroke-width="0.4"/>
<line x1="279.10" y1="209.81" x2="279.10" y2="210.22" stroke="#777" stroke-width="0.5"/>
<line x1="278.30" y1="209.81" x2="279.90" y2="209.81" stroke="#888" stroke-width="0.4"/>
<rect x="273.90" y="210.22" width="10.40" height="26.28" fill="#ff0000" stroke="#d00000" stroke-width="0.4"/>
<line x1="311.00" y1="208.86" x2="311.00" y2="209.27" stroke="#777" stroke-width="0.5"/>
<line x1="310.20" y1="208.86" x2="311.80" y2="208.86" stroke="#888" stroke-width="0.4"/>
<rect x="305.80" y="209.27" width="10.40" height="27.23" fill="#d4d4d4" stroke="#9a9a9a" stroke-width="0.4"/>
<line x1="324.20" y1="208.86" x2="324.20" y2="209.27" stroke="#777" stroke-width="0.5"/>
<line x1="323.40" y1="208.86" x2="325.00" y2="208.86" stroke="#888" stroke-width="0.4"/>
<rect x="319.00" y="209.27" width="10.40" height="27.23" fill="#000000" stroke="#000" stroke-width="0.4"/>
<line x1="336.90" y1="207.91" x2="336.90" y2="208.31" stroke="#777" stroke-width="0.5"/>
<line x1="336.10" y1="207.91" x2="337.70" y2="207.91" stroke="#888" stroke-width="0.4"/>
<rect x="331.70" y="208.31" width="10.40" height="28.19" fill="#f2b3b3" stroke="#c89090" stroke-width="0.4"/>
<line x1="349.60" y1="209.81" x2="349.60" y2="210.22" stroke="#777" stroke-width="0.5"/>
<line x1="348.80" y1="209.81" x2="350.40" y2="209.81" stroke="#888" stroke-width="0.4"/>
<rect x="344.40" y="210.22" width="10.40" height="26.28" fill="#ff0000" stroke="#d00000" stroke-width="0.4"/>
<line x1="224.3" y1="154.30" x2="224.3" y2="236.80" stroke="#8a8a8a" stroke-width="0.7"/>
<line x1="224.0" y1="236.5" x2="365.8" y2="236.5" stroke="#8a8a8a" stroke-width="0.7"/>
<line x1="222.3" y1="236.50" x2="224.3" y2="236.50" stroke="#8a8a8a" stroke-width="0.6"/>
<text x="219.80" y="238.30" text-anchor="end" class="tk">0.0</text>
<line x1="222.3" y1="222.88" x2="224.3" y2="222.88" stroke="#8a8a8a" stroke-width="0.6"/>
<text x="219.80" y="224.68" text-anchor="end" class="tk">0.1</text>
<line x1="222.3" y1="209.27" x2="224.3" y2="209.27" stroke="#8a8a8a" stroke-width="0.6"/>
<text x="219.80" y="211.07" text-anchor="end" class="tk">0.2</text>
<line x1="222.3" y1="195.65" x2="224.3" y2="195.65" stroke="#8a8a8a" stroke-width="0.6"/>
<text x="219.80" y="197.45" text-anchor="end" class="tk">0.3</text>
<line x1="222.3" y1="182.03" x2="224.3" y2="182.03" stroke="#8a8a8a" stroke-width="0.6"/>
<text x="219.80" y="183.83" text-anchor="end" class="tk">0.4</text>
<line x1="222.3" y1="168.42" x2="224.3" y2="168.42" stroke="#8a8a8a" stroke-width="0.6"/>
<text x="219.80" y="170.22" text-anchor="end" class="tk">0.5</text>
<line x1="222.3" y1="154.80" x2="224.3" y2="154.80" stroke="#8a8a8a" stroke-width="0.6"/>
<text x="219.80" y="156.60" text-anchor="end" class="tk">0.6</text>
<line x1="295.4" y1="236.5" x2="295.4" y2="238.3" stroke="#8a8a8a" stroke-width="0.6"/>
<line x1="365.8" y1="236.5" x2="365.8" y2="238.3" stroke="#8a8a8a" stroke-width="0.6"/>
<text x="259.80" y="244.60" text-anchor="middle" class="cat" textLength="25.6" lengthAdjust="spacingAndGlyphs">Ipsilateral</text>
<text x="330.45" y="245.30" text-anchor="middle" class="cat" textLength="33.9" lengthAdjust="spacingAndGlyphs">Contralateral</text>
<text transform="translate(201.80,196.75) rotate(-90)" text-anchor="middle" class="yl" textLength="73.4" lengthAdjust="spacingAndGlyphs">Iba1 staining in hippocampus</text>
<text transform="translate(207.80,196.25) rotate(-90)" text-anchor="middle" class="yl" textLength="28.2" lengthAdjust="spacingAndGlyphs">(CA3), OD</text><line x1="410.45" y1="212.65" x2="410.45" y2="213.15" stroke="#777" stroke-width="0.5"/>
<line x1="409.65" y1="212.65" x2="411.25" y2="212.65" stroke="#888" stroke-width="0.4"/>
<rect x="405.00" y="213.15" width="10.90" height="24.45" fill="#d4d4d4" stroke="#9a9a9a" stroke-width="0.4"/>
<line x1="424.35" y1="213.79" x2="424.35" y2="214.17" stroke="#777" stroke-width="0.5"/>
<line x1="423.55" y1="213.79" x2="425.15" y2="213.79" stroke="#888" stroke-width="0.4"/>
<rect x="418.90" y="214.17" width="10.90" height="23.43" fill="#000000" stroke="#000" stroke-width="0.4"/>
<line x1="437.95" y1="213.79" x2="437.95" y2="214.17" stroke="#777" stroke-width="0.5"/>
<line x1="437.15" y1="213.79" x2="438.75" y2="213.79" stroke="#888" stroke-width="0.4"/>
<rect x="432.50" y="214.17" width="10.90" height="23.43" fill="#f2b3b3" stroke="#c89090" stroke-width="0.4"/>
<line x1="451.45" y1="214.80" x2="451.45" y2="215.18" stroke="#777" stroke-width="0.5"/>
<line x1="450.65" y1="214.80" x2="452.25" y2="214.80" stroke="#888" stroke-width="0.4"/>
<rect x="446.00" y="215.18" width="10.90" height="22.42" fill="#ff0000" stroke="#d00000" stroke-width="0.4"/>
<line x1="485.55" y1="213.53" x2="485.55" y2="213.91" stroke="#777" stroke-width="0.5"/>
<line x1="484.75" y1="213.53" x2="486.35" y2="213.53" stroke="#888" stroke-width="0.4"/>
<rect x="480.10" y="213.91" width="10.90" height="23.69" fill="#d4d4d4" stroke="#9a9a9a" stroke-width="0.4"/>
<line x1="499.45" y1="214.04" x2="499.45" y2="214.42" stroke="#777" stroke-width="0.5"/>
<line x1="498.65" y1="214.04" x2="500.25" y2="214.04" stroke="#888" stroke-width="0.4"/>
<rect x="494.00" y="214.42" width="10.90" height="23.18" fill="#000000" stroke="#000" stroke-width="0.4"/>
<line x1="512.95" y1="213.79" x2="512.95" y2="214.17" stroke="#777" stroke-width="0.5"/>
<line x1="512.15" y1="213.79" x2="513.75" y2="213.79" stroke="#888" stroke-width="0.4"/>
<rect x="507.50" y="214.17" width="10.90" height="23.43" fill="#f2b3b3" stroke="#c89090" stroke-width="0.4"/>
<line x1="526.45" y1="215.05" x2="526.45" y2="215.43" stroke="#777" stroke-width="0.5"/>
<line x1="525.65" y1="215.05" x2="527.25" y2="215.05" stroke="#888" stroke-width="0.4"/>
<rect x="521.00" y="215.43" width="10.90" height="22.17" fill="#ff0000" stroke="#d00000" stroke-width="0.4"/>
<line x1="393.4" y1="161.10" x2="393.4" y2="237.90" stroke="#8a8a8a" stroke-width="0.7"/>
<line x1="393.09999999999997" y1="237.6" x2="544.3" y2="237.6" stroke="#8a8a8a" stroke-width="0.7"/>
<line x1="391.4" y1="237.60" x2="393.4" y2="237.60" stroke="#8a8a8a" stroke-width="0.6"/>
<text x="388.90" y="239.40" text-anchor="end" class="tk">0.0</text>
<line x1="391.4" y1="224.93" x2="393.4" y2="224.93" stroke="#8a8a8a" stroke-width="0.6"/>
<text x="388.90" y="226.73" text-anchor="end" class="tk">0.1</text>
<line x1="391.4" y1="212.27" x2="393.4" y2="212.27" stroke="#8a8a8a" stroke-width="0.6"/>
<text x="388.90" y="214.07" text-anchor="end" class="tk">0.2</text>
<line x1="391.4" y1="199.60" x2="393.4" y2="199.60" stroke="#8a8a8a" stroke-width="0.6"/>
<text x="388.90" y="201.40" text-anchor="end" class="tk">0.3</text>
<line x1="391.4" y1="186.93" x2="393.4" y2="186.93" stroke="#8a8a8a" stroke-width="0.6"/>
<text x="388.90" y="188.73" text-anchor="end" class="tk">0.4</text>
<line x1="391.4" y1="174.27" x2="393.4" y2="174.27" stroke="#8a8a8a" stroke-width="0.6"/>
<text x="388.90" y="176.07" text-anchor="end" class="tk">0.5</text>
<line x1="391.4" y1="161.60" x2="393.4" y2="161.60" stroke="#8a8a8a" stroke-width="0.6"/>
<text x="388.90" y="163.40" text-anchor="end" class="tk">0.6</text>
<line x1="468.6" y1="237.6" x2="468.6" y2="239.4" stroke="#8a8a8a" stroke-width="0.6"/>
<line x1="544.3" y1="237.6" x2="544.3" y2="239.4" stroke="#8a8a8a" stroke-width="0.6"/>
<text x="431.10" y="245.80" text-anchor="middle" class="cat" textLength="25" lengthAdjust="spacingAndGlyphs">Ipsilateral</text>
<text x="506.45" y="246.50" text-anchor="middle" class="cat" textLength="34.7" lengthAdjust="spacingAndGlyphs">Contralateral</text>
<text transform="translate(376.70,199.2) rotate(-90)" text-anchor="middle" class="yl" textLength="75.5" lengthAdjust="spacingAndGlyphs">Iba1 staining in thalamus, OD</text><line x1="59.40" y1="307.27" x2="59.40" y2="309.03" stroke="#777" stroke-width="0.5"/>
<line x1="58.60" y1="307.27" x2="60.20" y2="307.27" stroke="#888" stroke-width="0.4"/>
<rect x="54.20" y="309.03" width="10.40" height="23.57" fill="#d4d4d4" stroke="#9a9a9a" stroke-width="0.4"/>
<line x1="72.50" y1="287.82" x2="72.50" y2="293.71" stroke="#777" stroke-width="0.5"/>
<line x1="71.70" y1="287.82" x2="73.30" y2="287.82" stroke="#888" stroke-width="0.4"/>
<rect x="67.30" y="293.71" width="10.40" height="38.89" fill="#000000" stroke="#000" stroke-width="0.4"/>
<line x1="85.10" y1="307.62" x2="85.10" y2="309.39" stroke="#777" stroke-width="0.5"/>
<line x1="84.30" y1="307.62" x2="85.90" y2="307.62" stroke="#888" stroke-width="0.4"/>
<rect x="79.90" y="309.39" width="10.40" height="23.21" fill="#f2b3b3" stroke="#c89090" stroke-width="0.4"/>
<line x1="97.80" y1="300.20" x2="97.80" y2="304.79" stroke="#777" stroke-width="0.5"/>
<line x1="97.00" y1="300.20" x2="98.60" y2="300.20" stroke="#888" stroke-width="0.4"/>
<rect x="92.60" y="304.79" width="10.40" height="27.81" fill="#ff0000" stroke="#d00000" stroke-width="0.4"/>
<line x1="129.30" y1="309.39" x2="129.30" y2="309.98" stroke="#777" stroke-width="0.5"/>
<line x1="128.50" y1="309.39" x2="130.10" y2="309.39" stroke="#888" stroke-width="0.4"/>
<rect x="124.10" y="309.98" width="10.40" height="22.62" fill="#d4d4d4" stroke="#9a9a9a" stroke-width="0.4"/>
<line x1="142.30" y1="297.25" x2="142.30" y2="301.26" stroke="#777" stroke-width="0.5"/>
<line x1="141.50" y1="297.25" x2="143.10" y2="297.25" stroke="#888" stroke-width="0.4"/>
<rect x="137.10" y="301.26" width="10.40" height="31.34" fill="#000000" stroke="#000" stroke-width="0.4"/>
<line x1="154.60" y1="309.50" x2="154.60" y2="310.33" stroke="#777" stroke-width="0.5"/>
<line x1="153.80" y1="309.50" x2="155.40" y2="309.50" stroke="#888" stroke-width="0.4"/>
<rect x="149.40" y="310.33" width="10.40" height="22.27" fill="#f2b3b3" stroke="#c89090" stroke-width="0.4"/>
<line x1="167.40" y1="311.39" x2="167.40" y2="311.98" stroke="#777" stroke-width="0.5"/>
<line x1="166.60" y1="311.39" x2="168.20" y2="311.39" stroke="#888" stroke-width="0.4"/>
<rect x="162.20" y="311.98" width="10.40" height="20.62" fill="#ff0000" stroke="#d00000" stroke-width="0.4"/>
<line x1="43.4" y1="261.40" x2="43.4" y2="332.90" stroke="#8a8a8a" stroke-width="0.7"/>
<line x1="43.1" y1="332.6" x2="183" y2="332.6" stroke="#8a8a8a" stroke-width="0.7"/>
<line x1="41.4" y1="332.60" x2="43.4" y2="332.60" stroke="#8a8a8a" stroke-width="0.6"/>
<text x="38.90" y="334.40" text-anchor="end" class="tk">0.0</text>
<line x1="41.4" y1="320.82" x2="43.4" y2="320.82" stroke="#8a8a8a" stroke-width="0.6"/>
<text x="38.90" y="322.62" text-anchor="end" class="tk">0.1</text>
<line x1="41.4" y1="309.03" x2="43.4" y2="309.03" stroke="#8a8a8a" stroke-width="0.6"/>
<text x="38.90" y="310.83" text-anchor="end" class="tk">0.2</text>
<line x1="41.4" y1="297.25" x2="43.4" y2="297.25" stroke="#8a8a8a" stroke-width="0.6"/>
<text x="38.90" y="299.05" text-anchor="end" class="tk">0.3</text>
<line x1="41.4" y1="285.47" x2="43.4" y2="285.47" stroke="#8a8a8a" stroke-width="0.6"/>
<text x="38.90" y="287.27" text-anchor="end" class="tk">0.4</text>
<line x1="41.4" y1="273.68" x2="43.4" y2="273.68" stroke="#8a8a8a" stroke-width="0.6"/>
<text x="38.90" y="275.48" text-anchor="end" class="tk">0.5</text>
<line x1="41.4" y1="261.90" x2="43.4" y2="261.90" stroke="#8a8a8a" stroke-width="0.6"/>
<text x="38.90" y="263.70" text-anchor="end" class="tk">0.6</text>
<line x1="113.1" y1="332.6" x2="113.1" y2="334.40000000000003" stroke="#8a8a8a" stroke-width="0.6"/>
<line x1="183" y1="332.6" x2="183" y2="334.40000000000003" stroke="#8a8a8a" stroke-width="0.6"/>
<text x="78.95" y="340.70" text-anchor="middle" class="cat" textLength="25.9" lengthAdjust="spacingAndGlyphs">Ipsilateral</text>
<text x="148.10" y="341.50" text-anchor="middle" class="cat" textLength="34.4" lengthAdjust="spacingAndGlyphs">Contralateral</text>
<text transform="translate(25.20,296.4) rotate(-90)" text-anchor="middle" class="yl" textLength="72.9" lengthAdjust="spacingAndGlyphs">GFAP staining in cortex, OD</text>
<text x="73.2" y="283.0" text-anchor="middle" class="hs">#</text>
<text x="166.2" y="308.5" text-anchor="middle" class="mk">*</text><line x1="239.35" y1="278.36" x2="239.35" y2="280.11" stroke="#777" stroke-width="0.5"/>
<line x1="238.55" y1="278.36" x2="240.15" y2="278.36" stroke="#888" stroke-width="0.4"/>
<rect x="234.30" y="280.11" width="10.10" height="50.89" fill="#d4d4d4" stroke="#9a9a9a" stroke-width="0.4"/>
<line x1="252.25" y1="265.58" x2="252.25" y2="271.09" stroke="#777" stroke-width="0.5"/>
<line x1="251.45" y1="265.58" x2="253.05" y2="265.58" stroke="#888" stroke-width="0.4"/>
<rect x="247.20" y="271.09" width="10.10" height="59.91" fill="#000000" stroke="#000" stroke-width="0.4"/>
<line x1="264.45" y1="278.61" x2="264.45" y2="280.37" stroke="#777" stroke-width="0.5"/>
<line x1="263.65" y1="278.61" x2="265.25" y2="278.61" stroke="#888" stroke-width="0.4"/>
<rect x="259.40" y="280.37" width="10.10" height="50.63" fill="#f2b3b3" stroke="#c89090" stroke-width="0.4"/>
<line x1="277.15" y1="266.20" x2="277.15" y2="270.09" stroke="#777" stroke-width="0.5"/>
<line x1="276.35" y1="266.20" x2="277.95" y2="266.20" stroke="#888" stroke-width="0.4"/>
<rect x="272.10" y="270.09" width="10.10" height="60.91" fill="#ff0000" stroke="#d00000" stroke-width="0.4"/>
<line x1="308.65" y1="276.10" x2="308.65" y2="277.98" stroke="#777" stroke-width="0.5"/>
<line x1="307.85" y1="276.10" x2="309.45" y2="276.10" stroke="#888" stroke-width="0.4"/>
<rect x="303.60" y="277.98" width="10.10" height="53.02" fill="#d4d4d4" stroke="#9a9a9a" stroke-width="0.4"/>
<line x1="321.65" y1="263.32" x2="321.65" y2="269.34" stroke="#777" stroke-width="0.5"/>
<line x1="320.85" y1="263.32" x2="322.45" y2="263.32" stroke="#888" stroke-width="0.4"/>
<rect x="316.60" y="269.34" width="10.10" height="61.66" fill="#000000" stroke="#000" stroke-width="0.4"/>
<line x1="334.35" y1="278.36" x2="334.35" y2="280.87" stroke="#777" stroke-width="0.5"/>
<line x1="333.55" y1="278.36" x2="335.15" y2="278.36" stroke="#888" stroke-width="0.4"/>
<rect x="329.30" y="280.87" width="10.10" height="50.13" fill="#f2b3b3" stroke="#c89090" stroke-width="0.4"/>
<line x1="346.65" y1="280.49" x2="346.65" y2="284.75" stroke="#777" stroke-width="0.5"/>
<line x1="345.85" y1="280.49" x2="347.45" y2="280.49" stroke="#888" stroke-width="0.4"/>
<rect x="341.60" y="284.75" width="10.10" height="46.25" fill="#ff0000" stroke="#d00000" stroke-width="0.4"/>
<line x1="223" y1="255.30" x2="223" y2="331.30" stroke="#8a8a8a" stroke-width="0.7"/>
<line x1="222.7" y1="331" x2="362.3" y2="331" stroke="#8a8a8a" stroke-width="0.7"/>
<line x1="221" y1="331.00" x2="223" y2="331.00" stroke="#8a8a8a" stroke-width="0.6"/>
<text x="218.50" y="332.80" text-anchor="end" class="tk">0.0</text>
<line x1="221" y1="318.47" x2="223" y2="318.47" stroke="#8a8a8a" stroke-width="0.6"/>
<text x="218.50" y="320.27" text-anchor="end" class="tk">0.1</text>
<line x1="221" y1="305.93" x2="223" y2="305.93" stroke="#8a8a8a" stroke-width="0.6"/>
<text x="218.50" y="307.73" text-anchor="end" class="tk">0.2</text>
<line x1="221" y1="293.40" x2="223" y2="293.40" stroke="#8a8a8a" stroke-width="0.6"/>
<text x="218.50" y="295.20" text-anchor="end" class="tk">0.3</text>
<line x1="221" y1="280.87" x2="223" y2="280.87" stroke="#8a8a8a" stroke-width="0.6"/>
<text x="218.50" y="282.67" text-anchor="end" class="tk">0.4</text>
<line x1="221" y1="268.33" x2="223" y2="268.33" stroke="#8a8a8a" stroke-width="0.6"/>
<text x="218.50" y="270.13" text-anchor="end" class="tk">0.5</text>
<line x1="221" y1="255.80" x2="223" y2="255.80" stroke="#8a8a8a" stroke-width="0.6"/>
<text x="218.50" y="257.60" text-anchor="end" class="tk">0.6</text>
<line x1="292.8" y1="331" x2="292.8" y2="332.8" stroke="#8a8a8a" stroke-width="0.6"/>
<line x1="362.3" y1="331" x2="362.3" y2="332.8" stroke="#8a8a8a" stroke-width="0.6"/>
<text x="258.55" y="339.80" text-anchor="middle" class="cat" textLength="26.3" lengthAdjust="spacingAndGlyphs">Ipsilateral</text>
<text x="328.00" y="340.30" text-anchor="middle" class="cat" textLength="34.6" lengthAdjust="spacingAndGlyphs">Contralateral</text>
<text transform="translate(201.80,290.6) rotate(-90)" text-anchor="middle" class="yl" textLength="42.3" lengthAdjust="spacingAndGlyphs">GFAP staining in</text>
<text transform="translate(208.10,290.35) rotate(-90)" text-anchor="middle" class="yl" textLength="63" lengthAdjust="spacingAndGlyphs">hippocampus (CA3), OD</text>
<text x="346.7" y="278.0" text-anchor="middle" class="mk">*</text><line x1="409.50" y1="297.98" x2="409.50" y2="300.27" stroke="#777" stroke-width="0.5"/>
<line x1="408.70" y1="297.98" x2="410.30" y2="297.98" stroke="#888" stroke-width="0.4"/>
<rect x="404.50" y="300.27" width="10.00" height="31.73" fill="#d4d4d4" stroke="#9a9a9a" stroke-width="0.4"/>
<line x1="423.00" y1="267.06" x2="423.00" y2="280.16" stroke="#777" stroke-width="0.5"/>
<line x1="422.20" y1="267.06" x2="423.80" y2="267.06" stroke="#888" stroke-width="0.4"/>
<rect x="418.00" y="280.16" width="10.00" height="51.84" fill="#000000" stroke="#000" stroke-width="0.4"/>
<line x1="435.70" y1="302.30" x2="435.70" y2="303.25" stroke="#777" stroke-width="0.5"/>
<line x1="434.90" y1="302.30" x2="436.50" y2="302.30" stroke="#888" stroke-width="0.4"/>
<rect x="430.70" y="303.25" width="10.00" height="28.75" fill="#f2b3b3" stroke="#c89090" stroke-width="0.4"/>
<line x1="448.50" y1="291.50" x2="448.50" y2="297.17" stroke="#777" stroke-width="0.5"/>
<line x1="447.70" y1="291.50" x2="449.30" y2="291.50" stroke="#888" stroke-width="0.4"/>
<rect x="443.50" y="297.17" width="10.00" height="34.83" fill="#ff0000" stroke="#d00000" stroke-width="0.4"/>
<line x1="480.40" y1="298.25" x2="480.40" y2="300.68" stroke="#777" stroke-width="0.5"/>
<line x1="479.60" y1="298.25" x2="481.20" y2="298.25" stroke="#888" stroke-width="0.4"/>
<rect x="475.40" y="300.68" width="10.00" height="31.32" fill="#d4d4d4" stroke="#9a9a9a" stroke-width="0.4"/>
<line x1="493.60" y1="293.66" x2="493.60" y2="297.03" stroke="#777" stroke-width="0.5"/>
<line x1="492.80" y1="293.66" x2="494.40" y2="293.66" stroke="#888" stroke-width="0.4"/>
<rect x="488.60" y="297.03" width="10.00" height="34.97" fill="#000000" stroke="#000" stroke-width="0.4"/>
<line x1="506.60" y1="302.30" x2="506.60" y2="302.98" stroke="#777" stroke-width="0.5"/>
<line x1="505.80" y1="302.30" x2="507.40" y2="302.30" stroke="#888" stroke-width="0.4"/>
<rect x="501.60" y="302.98" width="10.00" height="29.02" fill="#f2b3b3" stroke="#c89090" stroke-width="0.4"/>
<line x1="519.50" y1="302.98" x2="519.50" y2="303.92" stroke="#777" stroke-width="0.5"/>
<line x1="518.70" y1="302.98" x2="520.30" y2="302.98" stroke="#888" stroke-width="0.4"/>
<rect x="514.50" y="303.92" width="10.00" height="28.08" fill="#ff0000" stroke="#d00000" stroke-width="0.4"/>
<line x1="393.4" y1="250.50" x2="393.4" y2="332.30" stroke="#8a8a8a" stroke-width="0.7"/>
<line x1="393.09999999999997" y1="332" x2="535.9" y2="332" stroke="#8a8a8a" stroke-width="0.7"/>
<line x1="391.4" y1="332.00" x2="393.4" y2="332.00" stroke="#8a8a8a" stroke-width="0.6"/>
<text x="388.90" y="333.80" text-anchor="end" class="tk">0.0</text>
<line x1="391.4" y1="318.50" x2="393.4" y2="318.50" stroke="#8a8a8a" stroke-width="0.6"/>
<text x="388.90" y="320.30" text-anchor="end" class="tk">0.1</text>
<line x1="391.4" y1="305.00" x2="393.4" y2="305.00" stroke="#8a8a8a" stroke-width="0.6"/>
<text x="388.90" y="306.80" text-anchor="end" class="tk">0.2</text>
<line x1="391.4" y1="291.50" x2="393.4" y2="291.50" stroke="#8a8a8a" stroke-width="0.6"/>
<text x="388.90" y="293.30" text-anchor="end" class="tk">0.3</text>
<line x1="391.4" y1="278.00" x2="393.4" y2="278.00" stroke="#8a8a8a" stroke-width="0.6"/>
<text x="388.90" y="279.80" text-anchor="end" class="tk">0.4</text>
<line x1="391.4" y1="264.50" x2="393.4" y2="264.50" stroke="#8a8a8a" stroke-width="0.6"/>
<text x="388.90" y="266.30" text-anchor="end" class="tk">0.5</text>
<line x1="391.4" y1="251.00" x2="393.4" y2="251.00" stroke="#8a8a8a" stroke-width="0.6"/>
<text x="388.90" y="252.80" text-anchor="end" class="tk">0.6</text>
<line x1="464.6" y1="332" x2="464.6" y2="333.8" stroke="#8a8a8a" stroke-width="0.6"/>
<line x1="535.9" y1="332" x2="535.9" y2="333.8" stroke="#8a8a8a" stroke-width="0.6"/>
<text x="429.65" y="340.20" text-anchor="middle" class="cat" textLength="25.7" lengthAdjust="spacingAndGlyphs">Ipsilateral</text>
<text x="500.00" y="340.90" text-anchor="middle" class="cat" textLength="34.2" lengthAdjust="spacingAndGlyphs">Contralateral</text>
<text transform="translate(371.60,287.65) rotate(-90)" text-anchor="middle" class="yl" textLength="68.4" lengthAdjust="spacingAndGlyphs">GFAP staining in thalamus,</text>
<text transform="translate(378.50,287.7) rotate(-90)" text-anchor="middle" class="yl" textLength="8.9" lengthAdjust="spacingAndGlyphs">OD</text>
</svg></body></html>
